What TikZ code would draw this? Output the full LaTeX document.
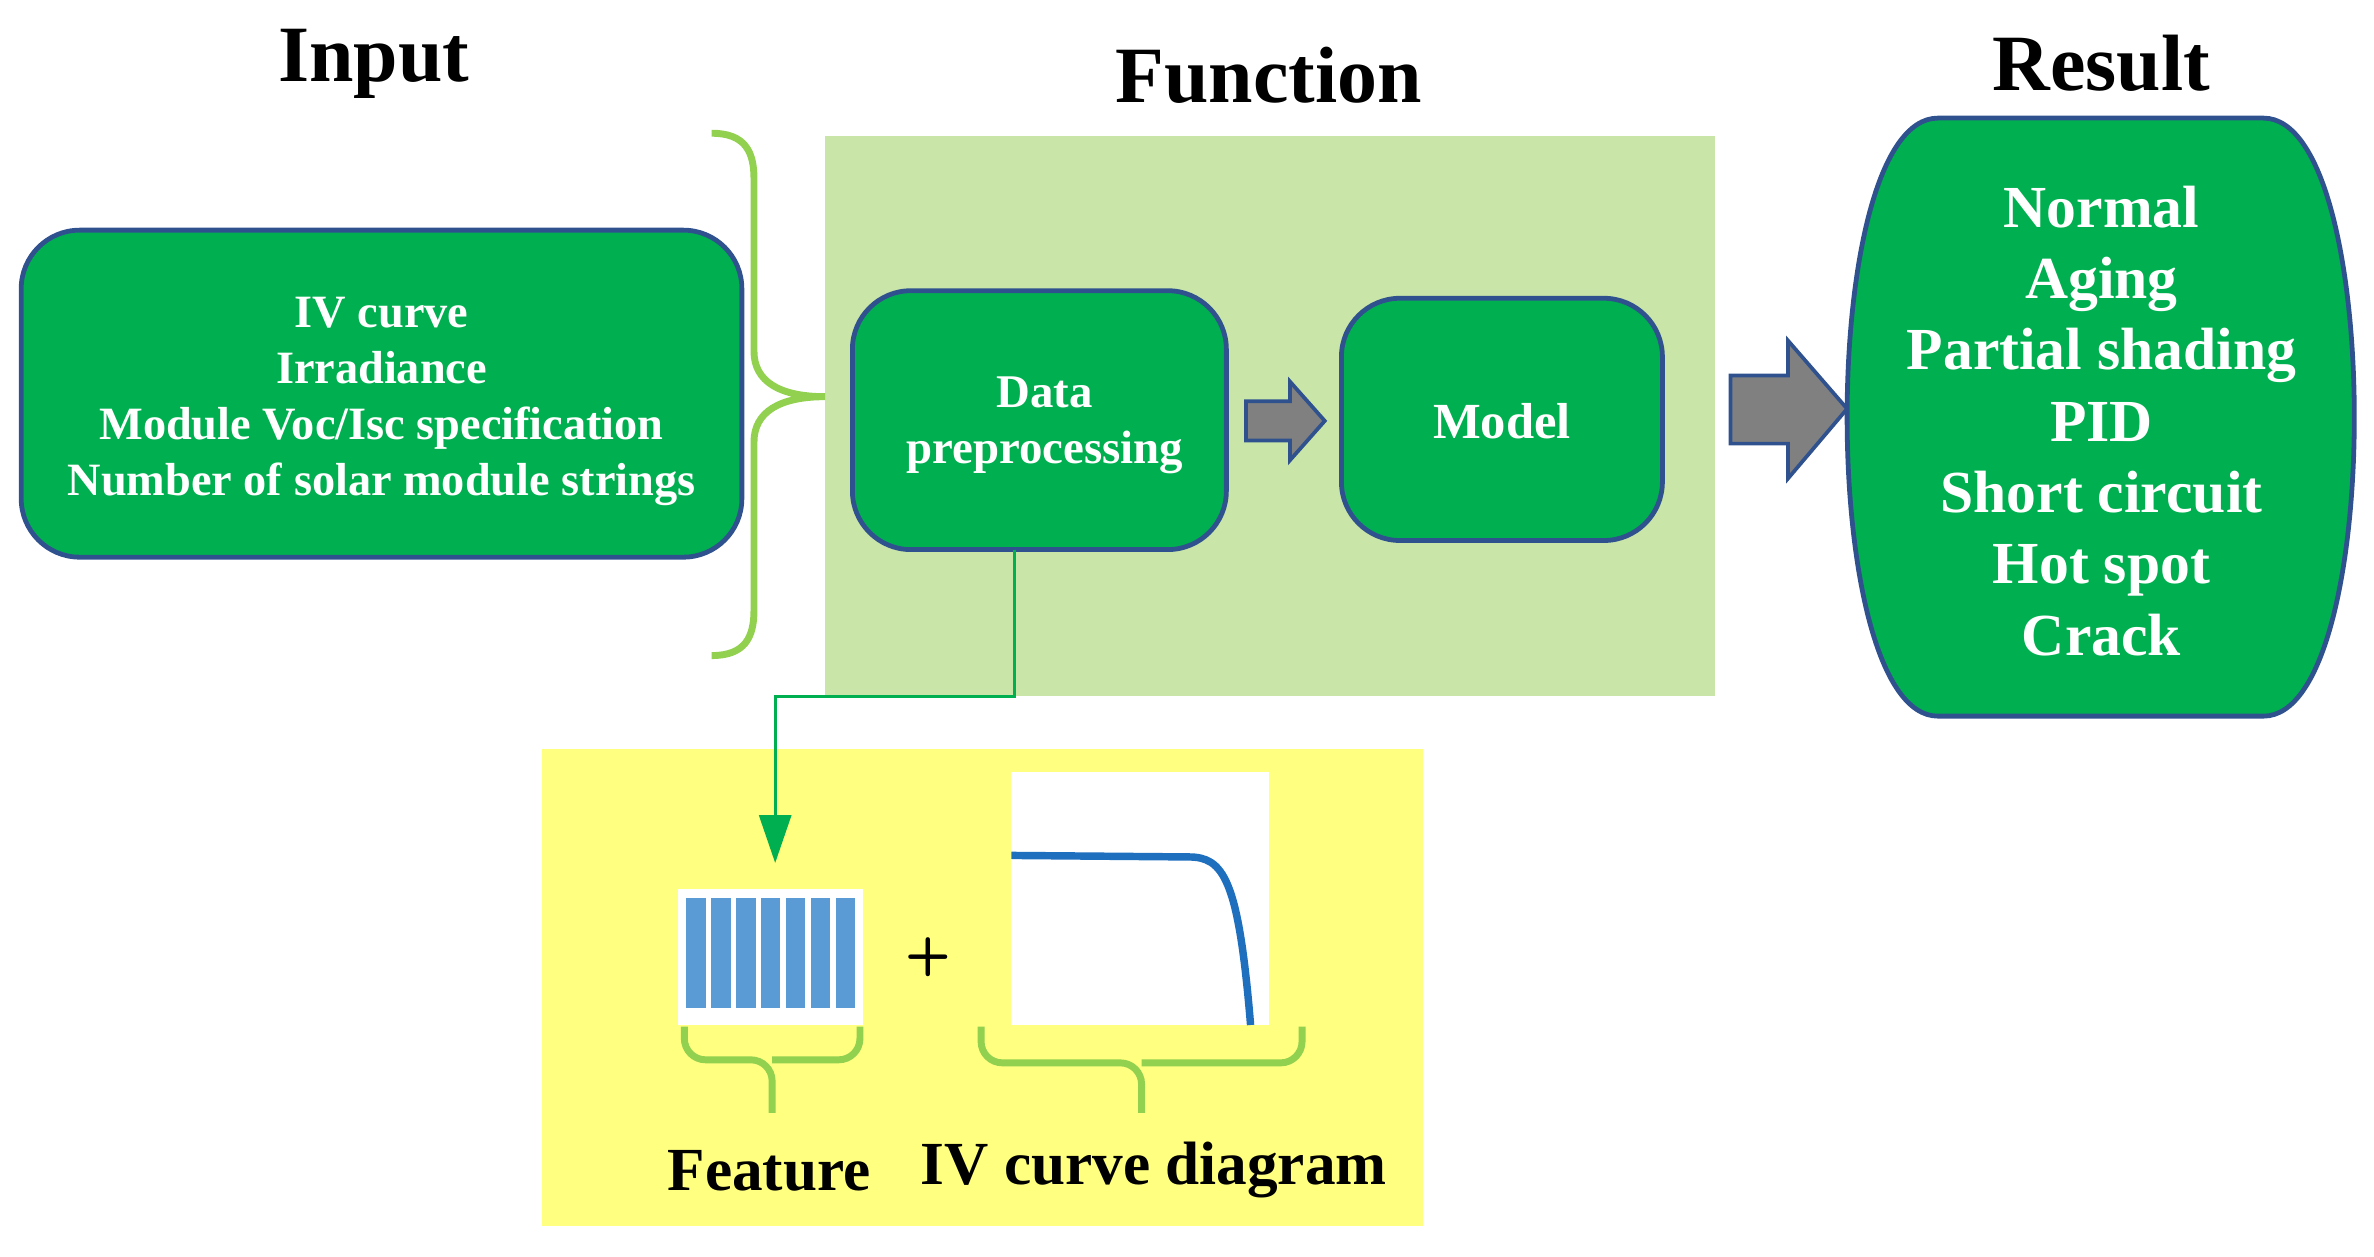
\documentclass[tikz,border=0pt]{standalone}
\usepackage{fontspec}
\setmainfont{Liberation Serif}
\usetikzlibrary{arrows.meta}
\definecolor{boxgreen}{HTML}{00B050}
\definecolor{boxedge}{HTML}{2F528F}
\definecolor{bracegreen}{HTML}{92D050}
\definecolor{funcbg}{HTML}{C9E5A8}
\definecolor{featbg}{HTML}{FFFF80}
\definecolor{cellblue}{HTML}{5B9BD5}
\definecolor{curveblue}{HTML}{1F6FBF}
\tikzset{
  gbox/.style={draw=boxedge, line width=0.9pt, fill=boxgreen, rounded corners=11pt},
  wtxt/.style={text=white, align=center},
  title/.style={font=\fontsize{15}{18}\selectfont\bfseries},
  blockarrow/.style={draw=boxedge, line width=0.7pt, fill=gray},
  brc/.style={draw=bracegreen, line width=1.3pt, rounded corners=4pt},
}
\begin{document}
\begin{tikzpicture}[x=0.01cm, y=-0.01cm]
\useasboundingbox (0,0) rectangle (1568,830);

% titles
\node[title] (tin) at (247,42) {Input};
\node[title] (tfun) at (838,50) {Function};
\node[title] (tres) at (1388,42) {Result};

% backgrounds
\fill[funcbg] (545,90) rectangle (1133,460);
\fill[featbg] (358,495) rectangle (940,810);

% input box
\draw[gbox] (14,152) rectangle (490,368);
\node[wtxt, font=\fontsize{8.7}{10.5}\selectfont\bfseries] (inp) at (252,265)
  {IV curve\\Irradiance\\Module Voc/Isc specification\\Number of solar module strings};

% brace
\draw[draw=bracegreen, line width=1.3pt]
  (470,88) .. controls (492,88) and (498,100) .. (498,118) -- (498,232)
  .. controls (498,252) and (515,262) .. (545,262)
  .. controls (515,262) and (498,272) .. (498,292) -- (498,403)
  .. controls (498,421) and (492,433) .. (470,433);

% data preprocessing and model
\draw[gbox] (563,192) rectangle (810,363);
\node[wtxt, font=\fontsize{8.8}{10.6}\selectfont\bfseries] (dp) at (690,281) {Data\\preprocessing};
\draw[gbox] (886,197) rectangle (1098,357);
\node[wtxt, font=\fontsize{9.5}{12}\selectfont\bfseries] (model) at (992,278) {Model};

% small arrow
\draw[blockarrow] (823,265) -- (852,265) -- (852,252) -- (875,278) -- (852,304) -- (852,291) -- (823,291) -- cycle;
% big arrow
\draw[blockarrow] (1143,248) -- (1181,248) -- (1181,225) -- (1220,270) -- (1181,316) -- (1181,293) -- (1143,293) -- cycle;

% result barrel
\draw[draw=boxedge, line width=0.9pt, fill=boxgreen]
  (1280,78) -- (1495,78) .. controls (1575,78) and (1575,473) .. (1495,473)
  -- (1280,473) .. controls (1200,473) and (1200,78) .. (1280,78) -- cycle;
\node[wtxt, font=\fontsize{11.2}{13.4}\selectfont\bfseries] (res) at (1388,278)
  {Normal\\Aging\\Partial shading\\PID\\Short circuit\\Hot spot\\Crack};

% connector to feature
\coordinate (dpb) at (670,363);
\coordinate (feat) at (512,570);
\draw[draw=boxgreen, line width=0.6pt, -{Triangle[length=9pt,width=6pt]}]
  (dpb) |- (590,460) -| (feat);

% solar panel
\fill[white] (448,587) rectangle (570,677);
\foreach \i in {0,...,6}
  \fill[cellblue] ({453+\i*16.5},593) rectangle ({466+\i*16.5},666);
\node[font=\fontsize{10}{12}\selectfont\sffamily\bfseries] (plus) at (613,632) {+};

% iv chart
\fill[white] (668,510) rectangle (838,677);
\draw[curveblue, line width=1.4pt] (668,565) -- (785,566) .. controls (808,566) and (818,580) .. (826,677);

% lower braces
\draw[brc] (452,678) |- (510,700) -- (510,735);
\draw[brc] (568,678) |- (510,700);
\draw[brc] (648,678) |- (754,702) -- (754,735);
\draw[brc] (860,678) |- (754,702);

\node[font=\fontsize{11.5}{14}\selectfont\bfseries] (ftxt) at (508,773) {Feature};
\node[font=\fontsize{11.5}{14}\selectfont\bfseries] (ivtxt) at (762,773) {IV curve diagram};
\end{tikzpicture}
\end{document}
